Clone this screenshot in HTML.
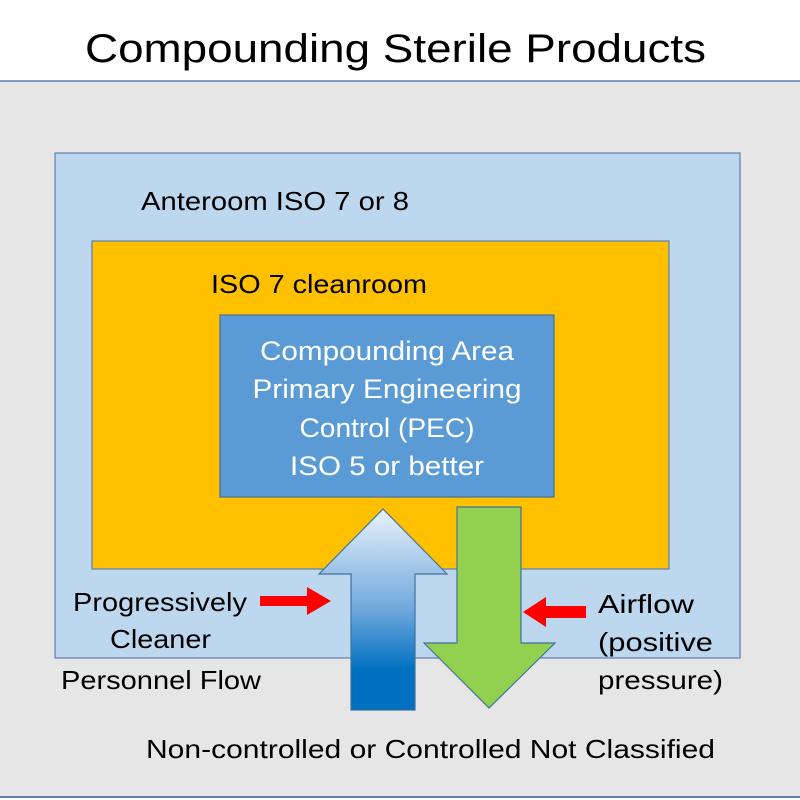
<!DOCTYPE html>
<html><head><style>body{margin:0;background:#fff}svg{display:block}</style></head>
<body>
<svg width="800" height="800" viewBox="0 0 800 800" xmlns="http://www.w3.org/2000/svg" font-family="Liberation Sans, sans-serif">
<defs>
<linearGradient id="g" x1="0" y1="0" x2="0" y2="1">
<stop offset="0" stop-color="#eaf2fb"/>
<stop offset="0.5" stop-color="#6fa8dc"/>
<stop offset="0.8" stop-color="#0070c0"/>
<stop offset="1" stop-color="#0070c0"/>
</linearGradient>
</defs>
<rect x="0" y="0" width="800" height="800" fill="#fff"/>
<rect x="0" y="81" width="800" height="716" fill="#e6e6e6"/>
<line x1="0" y1="81" x2="800" y2="81" stroke="#5a7fb0" stroke-width="1.5"/>
<line x1="0" y1="797" x2="800" y2="797" stroke="#5a7fb0" stroke-width="2"/>
<text x="85" y="62" font-size="40" textLength="621" lengthAdjust="spacingAndGlyphs">Compounding Sterile Products</text>
<rect x="55" y="153" width="685" height="505" fill="#bdd7ee" stroke="#5a7fb0" stroke-width="1.2"/>
<rect x="92" y="241" width="577" height="328" fill="#ffc000" stroke="#5a7fb0" stroke-width="1.2"/>
<rect x="220" y="315" width="334" height="182" fill="#5b9bd5" stroke="#41719c" stroke-width="1.2"/>
<text x="141" y="210" font-size="26" textLength="268" lengthAdjust="spacingAndGlyphs">Anteroom ISO 7 or 8</text>
<text x="211" y="293" font-size="26" textLength="216" lengthAdjust="spacingAndGlyphs">ISO 7 cleanroom</text>
<g fill="#fff" font-size="27" text-anchor="middle">
<text x="387" y="360" textLength="254" lengthAdjust="spacingAndGlyphs">Compounding Area</text>
<text x="387" y="398" textLength="269" lengthAdjust="spacingAndGlyphs">Primary Engineering</text>
<text x="387" y="437" textLength="175" lengthAdjust="spacingAndGlyphs">Control (PEC)</text>
<text x="387" y="475" textLength="194" lengthAdjust="spacingAndGlyphs">ISO 5 or better</text>
</g>
<polygon points="383,509 447,574 415,574 415,710 351,710 351,574 319,574" fill="url(#g)" stroke="#41719c" stroke-width="1.2"/>
<polygon points="457,507 521,507 521,643 555,643 489,708 424,643 457,643" fill="#92d050" stroke="#41719c" stroke-width="1.2"/>
<polygon points="260,596 307,596 307,587 331,601 307,615 307,606 260,606" fill="#ff0000"/>
<polygon points="586,606 546,606 546,597 523,612 546,627 546,618 586,618" fill="#ff0000"/>
<g font-size="26">
<text x="73" y="611" textLength="174" lengthAdjust="spacingAndGlyphs">Progressively</text>
<text x="110" y="648" textLength="101" lengthAdjust="spacingAndGlyphs">Cleaner</text>
<text x="61" y="689" textLength="200" lengthAdjust="spacingAndGlyphs">Personnel Flow</text>
<text x="598" y="613" textLength="96" lengthAdjust="spacingAndGlyphs">Airflow</text>
<text x="598" y="651" textLength="115" lengthAdjust="spacingAndGlyphs">(positive</text>
<text x="598" y="689" textLength="125" lengthAdjust="spacingAndGlyphs">pressure)</text>
<text x="146" y="758" textLength="569" lengthAdjust="spacingAndGlyphs">Non-controlled or Controlled Not Classified</text>
</g>
</svg>
</body></html>
